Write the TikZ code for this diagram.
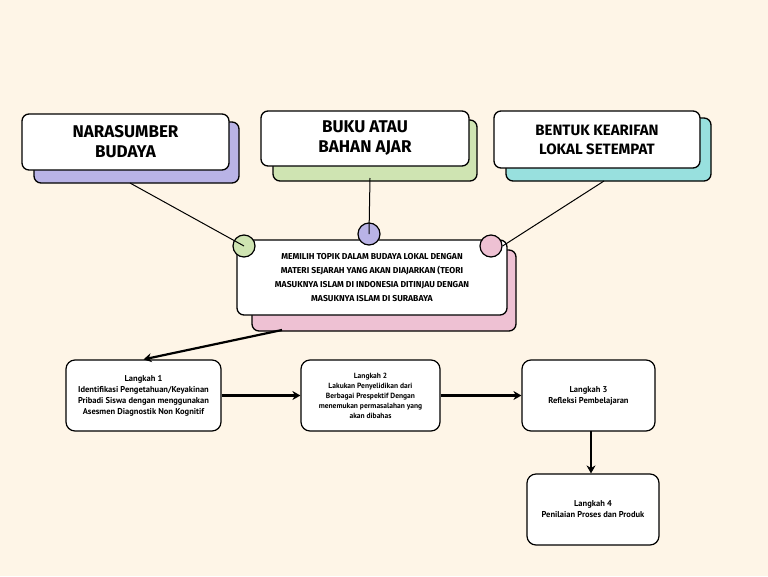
\documentclass[tikz,border=0pt]{standalone}
\usepackage{fontspec}
\setmainfont{Fira Sans}
\newfontfamily\stepfont{PT Sans}
\usetikzlibrary{arrows.meta}
\definecolor{bg}{HTML}{FEF5E7}
\definecolor{cpur}{HTML}{B9B3E6}
\definecolor{cgrn}{HTML}{CFE4B2}
\definecolor{ccyn}{HTML}{98E0DE}
\definecolor{cpnk}{HTML}{EEC1D3}
\tikzset{
  card/.style={draw=black,line width=1.3pt,rounded corners=7pt,fill=white},
  shadow/.style={draw=black,line width=1.3pt,rounded corners=7pt},
  title/.style={font=\bfseries\fontsize{17}{20}\selectfont,align=center},
  stepbox/.style={draw=black,line width=1.2pt,rounded corners=9pt,fill=white,font=\stepfont\bfseries\fontsize{8.5}{11}\selectfont,align=center,inner sep=2pt},
  dot/.style={circle,draw=black,line width=1.2pt,minimum size=22pt,inner sep=0pt},
  arr/.style={line width=2.2pt,-{Stealth[length=8pt,width=9pt]}},
  ln/.style={line width=1pt}
}
\begin{document}
\begin{tikzpicture}[x=1pt,y=-1pt]
\fill[bg] (0,0) rectangle (768,576);
\useasboundingbox (0,0) rectangle (768,576);
% top cards
\draw[shadow,fill=cpur] (34,122) rectangle (239,183);
\node[card,minimum width=207pt,minimum height=56pt,title] (a) at (125.5,142) {NARASUMBER\\BUDAYA};
\draw[shadow,fill=cgrn] (273,120) rectangle (477,181);
\node[card,minimum width=208pt,minimum height=55pt,title] (b) at (365,138.5) {BUKU ATAU\\BAHAN AJAR};
\draw[shadow,fill=ccyn] (506,118) rectangle (711,181);
\node[card,minimum width=206pt,minimum height=57pt,title,font=\bfseries\fontsize{15}{19}\selectfont] (c) at (597,139.5) {BENTUK KEARIFAN\\LOKAL SETEMPAT};
% main card
\draw[shadow,fill=cpnk] (252,250) rectangle (516,331);
\node[card,minimum width=270pt,minimum height=75pt,align=center,font=\bfseries\fontsize{8.6}{14}\selectfont] (m) at (372,277.5)
 {MEMILIH TOPIK DALAM BUDAYA LOKAL DENGAN\\MATERI SEJARAH YANG AKAN DIAJARKAN (TEORI\\MASUKNYA ISLAM DI INDONESIA DITINJAU DENGAN\\MASUKNYA ISLAM DI SURABAYA};
% dots
\node[dot,fill=cgrn] (d1) at (244,246) {};
\node[dot,fill=cpur] (d2) at (369,234) {};
\node[dot,fill=cpnk] (d3) at (491,246) {};
\coordinate (a1) at (130,183);
\coordinate (b1) at (370,178);
\coordinate (c1) at (604,181);
\draw[ln] (a1) -- (d1.center);
\draw[ln] (b1) -- (d2.center);
\draw[ln] (c1) -- (d3.east);
% steps
\node[stepbox,minimum width=155pt,minimum height=71pt] (s1) at (143.5,395.5) {Langkah 1\\Identifikasi Pengetahuan/Keyakinan\\Pribadi Siswa dengan menggunakan\\Asesmen Diagnostik Non Kognitif};
\node[stepbox,minimum width=139pt,minimum height=71pt,font=\stepfont\bfseries\fontsize{7.5}{10}\selectfont] (s2) at (370.5,395.5) {Langkah 2\\Lakukan Penyelidikan dari\\Berbagai Prespektif Dengan\\menemukan permasalahan yang\\akan dibahas};
\node[stepbox,minimum width=133pt,minimum height=71pt] (s3) at (588.5,395.5) {Langkah 3\\Refleksi Pembelajaran};
\node[stepbox,minimum width=132pt,minimum height=71pt] (s4) at (593,509.5) {Langkah 4\\Penilaian Proses dan Produk};
\coordinate (m1) at (282,330);
\coordinate (s3b) at (591,431);
\draw[arr] (m1) -- (s1.north);
\draw[arr] (s1.east) -- (s2.west);
\draw[arr] (s2.east) -- (s3.west);
\draw[arr] (s3b) -- (s3b |- s4.north);
\end{tikzpicture}
\end{document}
